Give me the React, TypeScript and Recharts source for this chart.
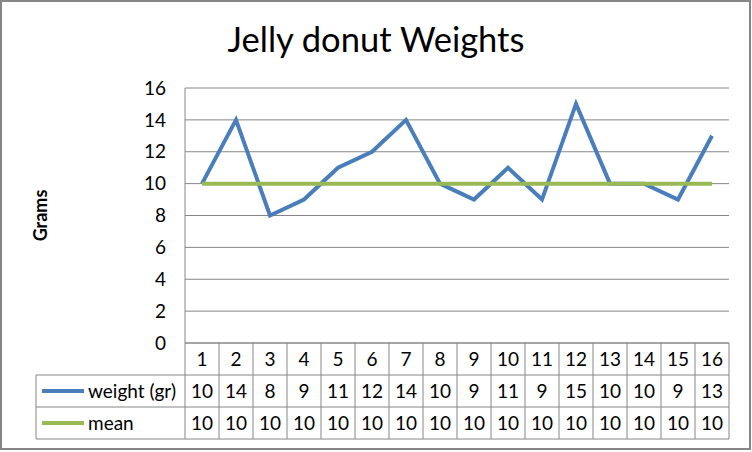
import React from 'react';
import { LineChart, Line, XAxis, YAxis, CartesianGrid } from 'recharts';

const categories = ['1', '2', '3', '4', '5', '6', '7', '8', '9', '10', '11', '12', '13', '14', '15', '16'];
const weights = [10, 14, 8, 9, 11, 12, 14, 10, 9, 11, 9, 15, 10, 10, 9, 13];
const means = [10, 10, 10, 10, 10, 10, 10, 10, 10, 10, 10, 10, 10, 10, 10, 10];
const yTicks = [0, 2, 4, 6, 8, 10, 12, 14, 16];

const series = [
    { key: 'weight', name: 'weight (gr)', color: '#4a7ebb', values: weights },
    { key: 'mean', name: 'mean', color: '#98b954', values: means },
];

const data = categories.map((c, i) => ({ cat: c, weight: weights[i], mean: means[i] }));

const FONT = 'Lato, "Open Sans", sans-serif';
const FS = 19;
const GRID = '#868686';
const TABLE_TOP = 343;
const ROW_H = 32;
const COL_W = 34;
const LEGEND_LEFT = 36;
const PLOT_RIGHT = 729;

// each x tick draws one column of the data table, the first one also draws the legend column
const TableTick = (props: any) => {
    const { x, index } = props;
    const bottom = TABLE_TOP + ROW_H * (series.length + 1);
    const left = x - COL_W / 2;
    return (
        <g>
            <text x={x} y={TABLE_TOP + ROW_H / 2} dy="0.35em" textAnchor="middle" fontSize={FS} fontFamily={FONT} fill="#000">
                {categories[index]}
            </text>
            {series.map((s, r) => (
                <text key={s.key} x={x} y={TABLE_TOP + ROW_H * (r + 1) + ROW_H / 2} dy="0.35em" textAnchor="middle" fontSize={FS} fontFamily={FONT} fill="#000">
                    {s.values[index]}
                </text>
            ))}
            <line x1={x + COL_W / 2} x2={x + COL_W / 2} y1={TABLE_TOP} y2={bottom} stroke={GRID} />
            {index === 0 && (
                <g>
                    <line x1={left} x2={left} y1={TABLE_TOP} y2={bottom} stroke={GRID} />
                    <line x1={LEGEND_LEFT} x2={LEGEND_LEFT} y1={TABLE_TOP + ROW_H} y2={bottom} stroke={GRID} />
                    {series.map((s, r) => {
                        const top = TABLE_TOP + ROW_H * (r + 1);
                        return (
                            <g key={s.key}>
                                <line x1={LEGEND_LEFT} x2={PLOT_RIGHT} y1={top} y2={top} stroke={GRID} />
                                <line x1={LEGEND_LEFT + 6} x2={LEGEND_LEFT + 48} y1={top + ROW_H / 2} y2={top + ROW_H / 2} stroke={s.color} strokeWidth={4} />
                                <text x={LEGEND_LEFT + 52} y={top + ROW_H / 2} dy="0.35em" fontSize={FS} fontFamily={FONT} fill="#000">
                                    {s.name}
                                </text>
                            </g>
                        );
                    })}
                    <line x1={LEGEND_LEFT} x2={PLOT_RIGHT} y1={bottom} y2={bottom} stroke={GRID} />
                </g>
            )}
        </g>
    );
};

const GramsLabel = (props: any) => {
    const { viewBox } = props;
    const cx = viewBox.x + 41;
    const cy = viewBox.y + viewBox.height / 2;
    return (
        <text x={cx} y={cy} transform={`rotate(-90 ${cx} ${cy})`} textAnchor="middle" dy="0.35em" fontSize={18} fontWeight="bold" fontFamily={FONT} fill="#000">
            Grams
        </text>
    );
};

const App = () => {
    return (
        <div style={{ position: 'absolute', left: 0, top: 0, width: 752, height: 452, background: '#fff' }}>
            <LineChart width={752} height={452} data={data} margin={{ top: 88, right: 23, bottom: 0, left: 0 }}>
                <CartesianGrid horizontal vertical={false} stroke={GRID} strokeOpacity={1} />
                <XAxis
                    dataKey="cat"
                    scale="band"
                    height={109}
                    axisLine={{ stroke: GRID }}
                    tickLine={false}
                    interval={0}
                    tick={<TableTick />}
                />
                <YAxis
                    domain={[0, 16]}
                    ticks={yTicks}
                    width={185}
                    axisLine={{ stroke: GRID }}
                    tickLine={false}
                    tickMargin={13}
                    tick={{ fontSize: FS, fontFamily: FONT, fill: '#000' }}
                    label={<GramsLabel />}
                />
                {series.map((s) => (
                    <Line
                        key={s.key}
                        dataKey={s.key}
                        name={s.name}
                        stroke={s.color}
                        strokeWidth={4}
                        dot={false}
                        activeDot={false}
                        type="linear"
                        isAnimationActive={false}
                    />
                ))}
            </LineChart>
            <svg width={752} height={452} style={{ position: 'absolute', left: 0, top: 0, pointerEvents: 'none' }}>
                <text x={376} y={52} textAnchor="middle" fontSize={34.5} fontFamily={FONT} fill="#000">
                    Jelly donut Weights
                </text>
                <rect x={1} y={1} width={749} height={448} fill="none" stroke={GRID} strokeWidth={2} />
            </svg>
        </div>
    );
};

export default App;
